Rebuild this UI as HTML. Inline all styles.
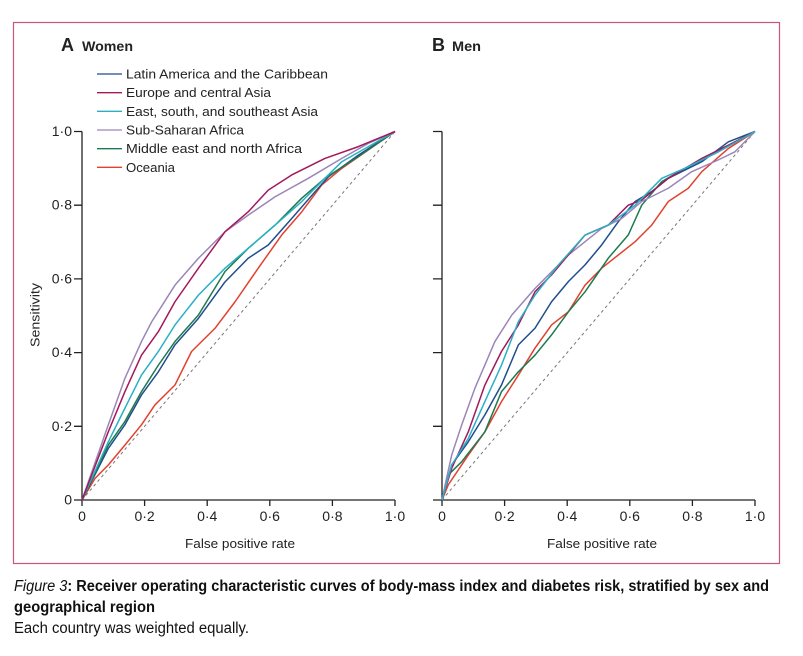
<!DOCTYPE html>
<html><head><meta charset="utf-8"><style>
html,body{margin:0;padding:0;background:#fff;}
svg{display:block;font-family:"Liberation Sans",sans-serif;}
.c{fill:none;stroke-width:1.5;stroke-linejoin:round;}
</style></head><body>
<svg width="803" height="656" viewBox="0 0 803 656" xmlns="http://www.w3.org/2000/svg">
<rect x="0" y="0" width="803" height="656" fill="#fff"/>
<rect x="13.5" y="22.5" width="766" height="541" fill="none" stroke="#c8557e" stroke-width="1.2"/>

<!-- Titles -->
<text x="61" y="51" font-size="18" font-weight="bold" fill="#222">A</text>
<text x="82" y="51" font-size="13.5" font-weight="bold" fill="#222" textLength="51" lengthAdjust="spacingAndGlyphs">Women</text>
<text x="432" y="51" font-size="18" font-weight="bold" fill="#222">B</text>
<text x="452" y="51" font-size="13.5" font-weight="bold" fill="#222" textLength="29" lengthAdjust="spacingAndGlyphs">Men</text>

<!-- Legend -->
<g stroke-width="1.3">
<line x1="97" y1="74" x2="122" y2="74" stroke="#1f4e8c"/>
<line x1="97" y1="92.7" x2="122" y2="92.7" stroke="#a3195b"/>
<line x1="97" y1="111.3" x2="122" y2="111.3" stroke="#2ab0c5"/>
<line x1="97" y1="130" x2="122" y2="130" stroke="#9b86b8"/>
<line x1="97" y1="148.7" x2="122" y2="148.7" stroke="#1d7a50"/>
<line x1="97" y1="167.3" x2="122" y2="167.3" stroke="#e2412f"/>
</g>
<g font-size="13" fill="#222">
<text x="126" y="78.5" textLength="202" lengthAdjust="spacingAndGlyphs">Latin America and the Caribbean</text>
<text x="126" y="97.2" textLength="145" lengthAdjust="spacingAndGlyphs">Europe and central Asia</text>
<text x="126" y="115.8" textLength="192" lengthAdjust="spacingAndGlyphs">East, south, and southeast Asia</text>
<text x="126" y="134.5" textLength="118" lengthAdjust="spacingAndGlyphs">Sub-Saharan Africa</text>
<text x="126" y="153.2" textLength="176" lengthAdjust="spacingAndGlyphs">Middle east and north Africa</text>
<text x="126" y="171.8" textLength="49" lengthAdjust="spacingAndGlyphs">Oceania</text>
</g>

<!-- Panel A axes -->
<g stroke="#222" stroke-width="1.3" fill="none">
<path d="M82,131.5 V500 H395"/>
<path d="M74,500H82 M74,426.3H82 M74,352.6H82 M74,278.9H82 M74,205.2H82 M74,131.5H82"/>
<path d="M82,500V506 M144.6,500V506 M207.2,500V506 M269.8,500V506 M332.4,500V506 M395,500V506"/>
</g>
<g font-size="14" fill="#222" text-anchor="end">
<text x="72" y="504.5">0</text>
<text x="72" y="430.8">0·2</text>
<text x="72" y="357.1">0·4</text>
<text x="72" y="283.4">0·6</text>
<text x="72" y="209.7">0·8</text>
<text x="72" y="136">1·0</text>
</g>
<g font-size="14" fill="#222" text-anchor="middle">
<text x="82" y="521">0</text>
<text x="144.6" y="521">0·2</text>
<text x="207.2" y="521">0·4</text>
<text x="269.8" y="521">0·6</text>
<text x="332.4" y="521">0·8</text>
<text x="395" y="521">1·0</text>
</g>
<text x="240" y="548" font-size="13" fill="#222" text-anchor="middle" textLength="110" lengthAdjust="spacingAndGlyphs">False positive rate</text>
<text transform="translate(39.5,315) rotate(-90)" font-size="13" fill="#222" text-anchor="middle" textLength="64" lengthAdjust="spacingAndGlyphs">Sensitivity</text>

<!-- Panel B axes -->
<g stroke="#222" stroke-width="1.3" fill="none">
<path d="M442,131.5 V500 H755"/>
<path d="M433,500H442 M433,426.3H442 M433,352.6H442 M433,278.9H442 M433,205.2H442 M433,131.5H442"/>
<path d="M442,500V506 M504.6,500V506 M567.2,500V506 M629.8,500V506 M692.4,500V506 M755,500V506"/>
</g>
<g font-size="14" fill="#222" text-anchor="middle">
<text x="442" y="521">0</text>
<text x="504.6" y="521">0·2</text>
<text x="567.2" y="521">0·4</text>
<text x="629.8" y="521">0·6</text>
<text x="692.4" y="521">0·8</text>
<text x="755" y="521">1·0</text>
</g>
<text x="602" y="548" font-size="13" fill="#222" text-anchor="middle" textLength="110" lengthAdjust="spacingAndGlyphs">False positive rate</text>

<!-- Diagonals -->
<line x1="82" y1="500" x2="395" y2="131.5" stroke="#777" stroke-width="1" stroke-dasharray="3,3"/>
<line x1="442" y1="500" x2="755" y2="131.5" stroke="#777" stroke-width="1" stroke-dasharray="3,3"/>

<!-- Panel A curves -->
<g transform="translate(82,500) scale(313,-368.5)">
<polyline class="c" vector-effect="non-scaling-stroke" stroke="#e2412f" points="0,0 0.042,0.059 0.084,0.095 0.137,0.149 0.19,0.204 0.233,0.258 0.297,0.312 0.35,0.403 0.425,0.466 0.489,0.538 0.563,0.629 0.638,0.719 0.702,0.782 0.766,0.855 0.83,0.9 0.915,0.95 1,1"/>
<polyline class="c" vector-effect="non-scaling-stroke" stroke="#1f4e8c" points="0,0 0.084,0.14 0.137,0.204 0.19,0.285 0.244,0.348 0.297,0.421 0.372,0.493 0.457,0.592 0.531,0.656 0.595,0.692 0.67,0.764 0.745,0.837 0.787,0.877 0.883,0.936 1,1"/>
<polyline class="c" vector-effect="non-scaling-stroke" stroke="#1d7a50" points="0,0 0.084,0.149 0.137,0.213 0.19,0.294 0.244,0.366 0.297,0.43 0.372,0.502 0.457,0.62 0.531,0.683 0.617,0.746 0.702,0.819 0.776,0.873 0.883,0.932 1,1"/>
<polyline class="c" vector-effect="non-scaling-stroke" stroke="#2ab0c5" points="0,0 0.084,0.158 0.137,0.249 0.19,0.339 0.244,0.403 0.297,0.475 0.372,0.556 0.457,0.629 0.531,0.683 0.617,0.746 0.702,0.81 0.776,0.873 0.83,0.918 0.915,0.959 1,1"/>
<polyline class="c" vector-effect="non-scaling-stroke" stroke="#9b86b8" points="0,0 0.084,0.204 0.137,0.33 0.19,0.43 0.223,0.484 0.297,0.583 0.372,0.656 0.457,0.728 0.531,0.773 0.617,0.823 0.723,0.873 0.83,0.927 0.915,0.968 1,1"/>
<polyline class="c" vector-effect="non-scaling-stroke" stroke="#a3195b" points="0,0 0.084,0.185 0.137,0.294 0.19,0.393 0.244,0.457 0.297,0.538 0.372,0.629 0.457,0.728 0.531,0.782 0.595,0.841 0.67,0.882 0.776,0.927 0.883,0.959 1,1"/>
</g>

<!-- Panel B curves -->
<g transform="translate(442,500) scale(313,-368.5)">
<polyline class="c" vector-effect="non-scaling-stroke" stroke="#e2412f" points="0,0 0.02,0.041 0.084,0.122 0.137,0.185 0.19,0.267 0.244,0.339 0.297,0.412 0.35,0.475 0.404,0.511 0.457,0.583 0.51,0.629 0.617,0.701 0.67,0.746 0.723,0.81 0.787,0.846 0.83,0.891 0.915,0.954 1,1"/>
<polyline class="c" vector-effect="non-scaling-stroke" stroke="#1d7a50" points="0,0 0.02,0.068 0.063,0.104 0.137,0.185 0.19,0.294 0.244,0.348 0.297,0.393 0.35,0.448 0.404,0.511 0.457,0.565 0.531,0.656 0.595,0.719 0.638,0.8 0.702,0.864 0.776,0.9 0.883,0.945 1,1"/>
<polyline class="c" vector-effect="non-scaling-stroke" stroke="#1f4e8c" points="0,0 0.031,0.095 0.084,0.158 0.137,0.231 0.19,0.312 0.244,0.421 0.297,0.466 0.35,0.538 0.404,0.593 0.457,0.638 0.51,0.692 0.563,0.755 0.617,0.81 0.67,0.837 0.723,0.873 0.83,0.918 0.915,0.972 1,1"/>
<polyline class="c" vector-effect="non-scaling-stroke" stroke="#9b86b8" points="0,0 0.01,0.041 0.031,0.122 0.063,0.204 0.105,0.303 0.169,0.43 0.223,0.502 0.297,0.574 0.404,0.665 0.51,0.737 0.574,0.764 0.638,0.81 0.723,0.846 0.798,0.891 0.883,0.923 0.936,0.945 1,1"/>
<polyline class="c" vector-effect="non-scaling-stroke" stroke="#a3195b" points="0,0 0.031,0.086 0.084,0.185 0.137,0.312 0.19,0.403 0.244,0.475 0.297,0.565 0.35,0.611 0.457,0.719 0.531,0.746 0.595,0.8 0.638,0.814 0.723,0.873 0.83,0.927 0.915,0.963 1,1"/>
<polyline class="c" vector-effect="non-scaling-stroke" stroke="#2ab0c5" points="0,0 0.031,0.095 0.084,0.167 0.137,0.267 0.19,0.366 0.244,0.484 0.297,0.556 0.372,0.638 0.457,0.719 0.531,0.746 0.617,0.8 0.702,0.873 0.776,0.9 0.883,0.945 1,1"/>
</g>

<!-- Caption -->
<text x="14" y="591" font-size="15.5" fill="#111" textLength="755" lengthAdjust="spacingAndGlyphs"><tspan font-style="italic">Figure 3</tspan><tspan font-weight="bold">: Receiver operating characteristic curves of body-mass index and diabetes risk, stratified by sex and</tspan></text>
<text x="14" y="612" font-size="15.5" font-weight="bold" fill="#111" textLength="141" lengthAdjust="spacingAndGlyphs">geographical region</text>
<text x="14" y="633" font-size="15.5" fill="#111" textLength="235" lengthAdjust="spacingAndGlyphs">Each country was weighted equally.</text>
</svg>
</body></html>
